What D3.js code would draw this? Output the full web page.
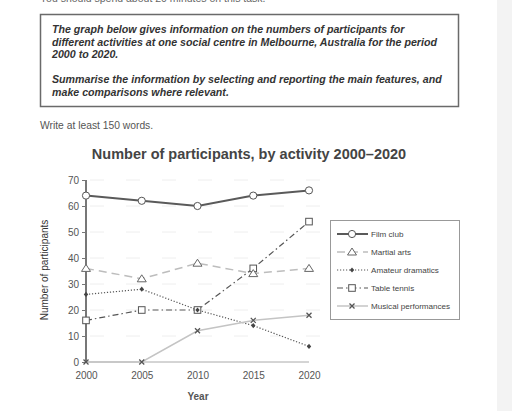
<!DOCTYPE html>
<html>
<head>
<meta charset="utf-8">
<script src="https://cdn.jsdelivr.net/npm/d3@7"></script>
<style>
html,body{margin:0;padding:0;background:#fff;}
svg{display:block;font-family:"Liberation Sans",Arial,Helvetica,sans-serif;}
</style>
</head>
<body>
<svg id="c" width="512" height="411"></svg>
<script>
const years = [2000, 2005, 2010, 2015, 2020];
const filmClub = [64, 62, 60, 64, 66];
const martialArts = [36, 32, 38, 34, 36];
const amateurDramatics = [26, 28, 20, 14, 6];
const tableTennis = [16, 20, 20, 36, 54];
const musicalPerformances = [0, 0, 12, 16, 18];
const seriesNames = ["Film club", "Martial arts", "Amateur dramatics", "Table tennis", "Musical performances"];
const yTicks = [0, 10, 20, 30, 40, 50, 60, 70];
const promptLines = [
  "The graph below gives information on the numbers of participants for",
  "different activities at one social centre in Melbourne, Australia for the period",
  "2000 to 2020.",
  "",
  "Summarise the information by selecting and reporting the main features, and",
  "make comparisons where relevant."
];
const titleText = "Number of participants, by activity 2000\u20132020";

const svg = d3.select("#c");

// right page strip
svg.append("rect").attr("x", 497).attr("y", 0).attr("width", 15).attr("height", 411).attr("fill", "#f3f3f3");

// cut off heading line (partly above the top edge, as in the reference)
svg.append("text").attr("x", 40).attr("y", 2).attr("font-size", 10.5).attr("fill", "#666")
  .text("You should spend about 20 minutes on this task.");

// prompt box
svg.append("rect").attr("x", 40.5).attr("y", 14.5).attr("width", 418).attr("height", 92)
  .attr("fill", "none").attr("stroke", "#6a6a6a").attr("stroke-width", 1.5);
const lineYs = [33, 46, 58, 71, 83, 96];
promptLines.forEach((t, i) => {
  if (!t) return;
  svg.append("text").attr("x", 52).attr("y", lineYs[i]).attr("font-size", 10.65)
    .attr("font-weight", "bold").attr("font-style", "italic").attr("fill", "#333").text(t);
});
svg.append("text").attr("x", 40).attr("y", 129).attr("font-size", 10.3).attr("fill", "#555")
  .text("Write at least 150 words.");

// chart title
svg.append("text").attr("x", 249).attr("y", 159).attr("text-anchor", "middle")
  .attr("font-size", 14.5).attr("font-weight", "bold").attr("fill", "#444").text(titleText);

const x = d3.scaleLinear().domain([2000, 2020]).range([86, 309]);
const y = d3.scaleLinear().domain([0, 70]).range([362, 180]);

// faint gridlines
svg.append("g").selectAll("line").data(yTicks.filter(d => d > 0)).join("line")
  .attr("x1", 90).attr("x2", 325).attr("y1", d => y(d)).attr("y2", d => y(d))
  .attr("stroke", "#eeeeee").attr("stroke-width", 1).attr("stroke-dasharray", "14,22");

// x axis baseline
svg.append("line").attr("x1", x(2000)).attr("x2", x(2020)).attr("y1", y(0)).attr("y2", y(0))
  .attr("stroke", "#aaa").attr("stroke-width", 1);

// y axis
const yAxis = d3.axisLeft(y).tickValues(yTicks).tickSize(4).tickPadding(3);
const ga = svg.append("g").attr("transform", `translate(${x(2000)},0)`).call(yAxis);
ga.select(".domain").attr("stroke", "#777").attr("stroke-width", 2).attr("d", `M0,${y(70)}V${y(0)}`);
ga.selectAll(".tick line").attr("stroke", "#777").attr("stroke-width", 1);
ga.selectAll(".tick text").attr("font-size", 10).attr("fill", "#555")
  .attr("font-family", "'Liberation Sans',Arial,sans-serif");

// x axis labels
const xAxis = d3.axisBottom(x).tickValues(years).tickFormat(d3.format("d")).tickSize(0).tickPadding(10);
const gx = svg.append("g").attr("transform", `translate(0,${y(0)})`).call(xAxis);
gx.select(".domain").remove();
gx.selectAll(".tick text").attr("font-size", 10).attr("fill", "#555")
  .attr("font-family", "'Liberation Sans',Arial,sans-serif");

// axis titles
svg.append("text").attr("x", 198).attr("y", 400).attr("text-anchor", "middle")
  .attr("font-size", 10).attr("font-weight", "bold").attr("fill", "#555").text("Year");
svg.append("text").attr("transform", "translate(48,270) rotate(-90)").attr("text-anchor", "middle")
  .attr("font-size", 10).attr("fill", "#333").text("Number of participants");

// series styles
const series = [
  {name: seriesNames[0], values: filmClub, stroke: "#5a5a5a", width: 2, dash: null, marker: "circle"},
  {name: seriesNames[1], values: martialArts, stroke: "#bdbdbd", width: 1.5, dash: "8,5", marker: "triangle"},
  {name: seriesNames[2], values: amateurDramatics, stroke: "#555", width: 1.2, dash: "1.2,1.8", marker: "diamond"},
  {name: seriesNames[3], values: tableTennis, stroke: "#555", width: 1.2, dash: "6,3,1.5,3", marker: "square"},
  {name: seriesNames[4], values: musicalPerformances, stroke: "#c4c4c4", width: 1.5, dash: null, marker: "cross"}
];

function drawMarker(g, type, cx, cy) {
  if (type === "circle") {
    g.append("circle").attr("cx", cx).attr("cy", cy).attr("r", 3.6)
      .attr("fill", "#fff").attr("stroke", "#555").attr("stroke-width", 1);
  } else if (type === "triangle") {
    g.append("path").attr("d", `M${cx},${cy-4}L${cx+4.5},${cy+3}L${cx-4.5},${cy+3}Z`)
      .attr("fill", "#fff").attr("stroke", "#666").attr("stroke-width", 1);
  } else if (type === "diamond") {
    g.append("path").attr("d", `M${cx},${cy-2.6}L${cx+2.2},${cy}L${cx},${cy+2.6}L${cx-2.2},${cy}Z`)
      .attr("fill", "#444");
  } else if (type === "square") {
    g.append("rect").attr("x", cx-3.3).attr("y", cy-3.3).attr("width", 6.6).attr("height", 6.6)
      .attr("fill", "#fff").attr("stroke", "#555").attr("stroke-width", 1);
  } else if (type === "cross") {
    g.append("path").attr("d", `M${cx-2.5},${cy-2.5}L${cx+2.5},${cy+2.5}M${cx+2.5},${cy-2.5}L${cx-2.5},${cy+2.5}`)
      .attr("stroke", "#555").attr("stroke-width", 1.3);
  }
}

const line = d3.line().x(d => x(d[0])).y(d => y(d[1]));
const plot = svg.append("g");
series.forEach(s => {
  const pts = years.map((yr, i) => [yr, s.values[i]]);
  plot.append("path").datum(pts).attr("d", line).attr("fill", "none")
    .attr("stroke", s.stroke).attr("stroke-width", s.width)
    .attr("stroke-dasharray", s.dash);
});
series.slice().reverse().forEach(s => {
  const g = plot.append("g");
  years.forEach((yr, i) => drawMarker(g, s.marker, x(yr), y(s.values[i])));
});

// legend
svg.append("rect").attr("x", 330.5).attr("y", 220.5).attr("width", 129).attr("height", 99)
  .attr("fill", "#fff").attr("stroke", "#999").attr("stroke-width", 1);
series.forEach((s, i) => {
  const ly = 234 + i * 18;
  const g = svg.append("g");
  g.append("line").attr("x1", 337).attr("x2", 368).attr("y1", ly).attr("y2", ly)
    .attr("stroke", s.stroke).attr("stroke-width", s.width).attr("stroke-dasharray", s.dash);
  drawMarker(g, s.marker, 352, ly);
  g.append("text").attr("x", 371).attr("y", ly + 3).attr("font-size", 8.1).attr("fill", "#444").text(s.name);
});
</script>
</body>
</html>
